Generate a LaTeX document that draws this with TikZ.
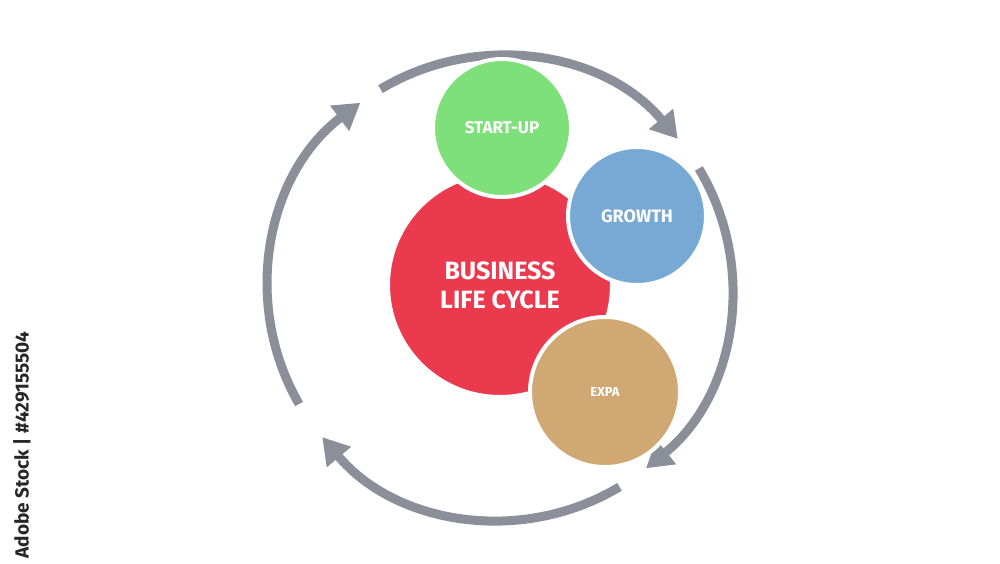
\documentclass[tikz,border=0pt]{standalone}
\usepackage{fontspec}
\setmainfont{Fira Sans}
\usetikzlibrary{arrows.meta}
\definecolor{cyc}{HTML}{8A8F99}
\definecolor{cred}{HTML}{EB3A4E}
\definecolor{cgreen}{HTML}{7EE07A}
\definecolor{cblue}{HTML}{78A8D4}
\definecolor{ctan}{HTML}{CFA874}
\begin{document}
\begin{tikzpicture}[x=1pt,y=1pt,
  ring/.style={draw=cyc,line width=9pt,-{Triangle[length=26pt,width=30pt]}},
  bub/.style={circle,draw=white,line width=4pt,inner sep=0pt,text=white,font=\bfseries,align=center}]
\useasboundingbox[fill=white] (0,0) rectangle (1000,563);
\coordinate (c) at (500,275);
\draw[ring] ([shift={(121:232)}]c) arc[start angle=121,end angle=40,radius=232];
\draw[ring] ([shift={(31:232)}]c) arc[start angle=31,end angle=-51,radius=232];
\draw[ring] ([shift={(-59:232)}]c) arc[start angle=-59,end angle=-140,radius=232];
\draw[ring] ([shift={(-150:232)}]c) arc[start angle=-150,end angle=-233,radius=232];
\node[bub,fill=cred,minimum size=224pt,font=\bfseries\fontsize{25}{29}\selectfont] (red) at (500,278) {BUSINESS\\LIFE CYCLE};
\node[bub,fill=cgreen,minimum size=138pt,font=\bfseries\fontsize{17}{20}\selectfont] (start) at (502,435) {START-UP};
\node[bub,fill=cblue,minimum size=138pt,font=\bfseries\fontsize{18}{20}\selectfont] (growth) at (637,347) {GROWTH};
\node[bub,fill=ctan,minimum size=150pt,font=\bfseries\fontsize{13}{15}\selectfont] (expa) at (605,171) {EXPA};
\node[rotate=90,font=\bfseries\fontsize{19}{21}\selectfont,text=black!85] (wm) at (22,118) {Adobe Stock | \#429155504};
\end{tikzpicture}
\end{document}
